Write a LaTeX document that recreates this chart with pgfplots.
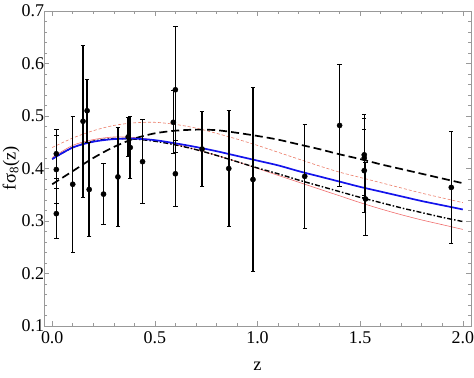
\documentclass[border=0pt]{standalone}
\usepackage{pgfplots}
\pgfplotsset{compat=1.18}
\usepackage{fontspec}
\setmainfont{Liberation Serif}
\definecolor{redthin}{RGB}{240,110,110}
\definecolor{reddash}{RGB}{235,125,105}
\definecolor{mblue}{RGB}{20,20,235}

\begin{document}
\begin{tikzpicture}
\useasboundingbox (0,0) rectangle (474bp,378bp);
\begin{axis}[
  at={(44bp,52bp)}, anchor=south west,
  width=427bp, height=315bp, scale only axis,
  xmin=-0.04, xmax=2.04, ymin=0.1, ymax=0.7,
  xtick={0,0.5,1,1.5,2}, xticklabels={0.0,0.5,1.0,1.5,2.0},
  ytick={0.1,0.2,0.3,0.4,0.5,0.6,0.7},
  yticklabels={0.1,0.2,0.3,0.4,0.5,0.6,0.7},
  minor x tick num=4, minor y tick num=4,
  tick align=inside, major tick length=5bp, minor tick length=3bp,
  axis line style={gray!80}, every tick/.style={gray!80, line width=0.5bp},
  tick label style={font=\fontsize{18}{21}\selectfont},
  yticklabel style={xshift=3.5bp},
  xticklabel style={yshift=-2bp},
  xlabel={z}, ylabel={f\kern0.5bp σ\textsubscript{8}(z)},
  label style={font=\fontsize{18.5}{21}\selectfont},
  xlabel style={at={(axis description cs:0.5,-0.127)}, anchor=center},
  ylabel style={at={(axis description cs:-0.077,0.5)}, anchor=center},
  clip=true,
]
% red thin solid
\addplot[redthin, line width=0.6bp, smooth] coordinates {
(0,0.421) (0.1,0.444) (0.2,0.455) (0.3,0.460) (0.4,0.459) (0.5,0.454) (0.6,0.446) (0.7,0.436) (0.8,0.425) (0.9,0.413) (1.0,0.400) (1.1,0.387) (1.2,0.374) (1.3,0.361) (1.4,0.348) (1.5,0.335) (1.6,0.323) (1.7,0.312) (1.8,0.302) (1.9,0.293) (2.0,0.284)};
% red dashed thin
\addplot[reddash, line width=0.6bp, dash pattern=on 3bp off 2bp, smooth] coordinates {
(0,0.440) (0.1,0.458) (0.2,0.472) (0.3,0.482) (0.4,0.487) (0.5,0.488) (0.6,0.484) (0.7,0.477) (0.8,0.467) (0.9,0.456) (1.0,0.444) (1.1,0.431) (1.2,0.418) (1.3,0.405) (1.4,0.393) (1.5,0.383) (1.6,0.373) (1.7,0.363) (1.8,0.353) (1.9,0.344) (2.0,0.335)};
% black dash-dot
\addplot[black, line width=1.4bp, dash pattern=on 5bp off 2bp on 1.5bp off 2bp, smooth] coordinates {
(0,0.418) (0.1,0.440) (0.2,0.452) (0.3,0.457) (0.4,0.456) (0.5,0.452) (0.6,0.445) (0.7,0.436) (0.8,0.425) (0.9,0.413) (1.0,0.401) (1.1,0.390) (1.2,0.378) (1.3,0.367) (1.4,0.356) (1.5,0.345) (1.6,0.335) (1.7,0.325) (1.8,0.316) (1.9,0.307) (2.0,0.299)};
% black dashed
\addplot[black, line width=1.7bp, dash pattern=on 8bp off 4bp, smooth] coordinates {
(0,0.370) (0.1,0.395) (0.2,0.420) (0.3,0.441) (0.4,0.457) (0.5,0.467) (0.6,0.472) (0.7,0.474) (0.8,0.473) (0.9,0.468) (1.0,0.462) (1.1,0.455) (1.2,0.446) (1.3,0.437) (1.4,0.427) (1.5,0.418) (1.6,0.408) (1.7,0.399) (1.8,0.390) (1.9,0.381) (2.0,0.372)};
% blue solid
\addplot[mblue, line width=1.7bp, smooth] coordinates {
(0,0.418) (0.1,0.440) (0.2,0.451) (0.3,0.456) (0.4,0.457) (0.5,0.454) (0.6,0.448) (0.7,0.441) (0.8,0.433) (0.9,0.424) (1.0,0.415) (1.1,0.406) (1.2,0.395) (1.3,0.385) (1.4,0.375) (1.5,0.365) (1.6,0.356) (1.7,0.347) (1.8,0.338) (1.9,0.330) (2.0,0.322)};
% data
\addplot[only marks, mark=*, mark size=2.6bp, black,
  error bars/.cd, y dir=both, y explicit,
  error bar style={line width=1.5bp, black},
  error mark options={rotate=90, black, line width=1bp, mark size=2.2bp}]
  table[x=z, y=f, y error=e] {
z f e
0.02 0.428 0.0465
0.02 0.398 0.065
0.02 0.314 0.048
0.10 0.370 0.130
0.15 0.490 0.145
0.17 0.510 0.060
0.18 0.360 0.090
0.25 0.3512 0.0583
0.32 0.384 0.095
0.37 0.4602 0.0378
0.38 0.440 0.060
0.44 0.413 0.080
0.59 0.488 0.060
0.60 0.550 0.120
0.60 0.390 0.063
0.73 0.437 0.072
0.86 0.400 0.110
0.978 0.379 0.176
1.23 0.385 0.099
1.40 0.482 0.116
1.52 0.426 0.077
1.52 0.420 0.076
1.52 0.396 0.079
1.526 0.342 0.070
1.944 0.364 0.106
};
\end{axis}
\end{tikzpicture}
\end{document}
